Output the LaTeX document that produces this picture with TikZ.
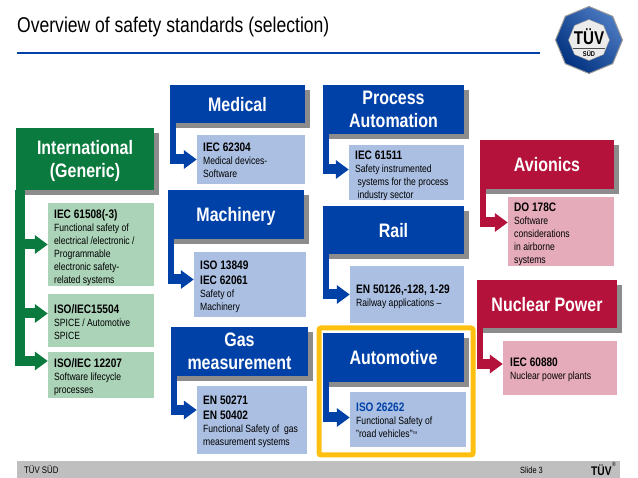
\documentclass[tikz,border=0pt]{standalone}
\usepackage{fontspec}
\setmainfont[FakeStretch=0.82]{Liberation Sans}
\usetikzlibrary{arrows.meta, shadows, shapes.geometric}
\definecolor{tuvblue}{HTML}{0041A8}
\definecolor{tuvgreen}{HTML}{0B7A3E}
\definecolor{tuvred}{HTML}{B4123A}
\definecolor{lightblue}{HTML}{AABFE2}
\definecolor{lightgreen}{HTML}{ABD3B8}
\definecolor{lightred}{HTML}{E6ABBB}
\definecolor{framegold}{HTML}{FDC010}
\tikzset{
  header/.style = {
    inner sep=0pt,
    text=white,
    align=center,
    font=\fontsize{19.5}{23.5}\selectfont\bfseries,
    drop shadow={shadow xshift=5pt, shadow yshift=-5pt, fill=black!45, opacity=1}
  },
  oneline/.style = {
    text height=19pt,
    text depth=4pt
  },
  detail/.style = {
    inner sep=0pt
  },
  stdtext/.style = {
    anchor=north west,
    inner sep=0pt,
    align=left,
    font=\fontsize{10.5}{13}\selectfont
  },
  stem/.style = {
    line width=6pt,
    shorten >=10pt
  },
  link/.style = {
    line width=10pt,
    -{Triangle[width=18pt, length=13pt]}
  }
}
\newcommand{\std}[1]{{\fontsize{12.3}{15}\selectfont\bfseries #1}}

\begin{document}
\begin{tikzpicture}[x=1pt, y=-1pt]

  \useasboundingbox (0,0) rectangle (638,478);

  % title and footer
  \node[anchor=west, inner sep=0pt, font=\fontsize{21.4}{24}\selectfont] (title) at (17,27) {Overview of safety standards (selection)};
  \coordinate (ruleleft) at (17,53);
  \coordinate (ruleright) at (540,53);
  \draw[tuvblue, line width=2pt] (ruleleft) -- (ruleright);
  \fill[black!25] (17,461) rectangle (620,478);
  \node[anchor=west, inner sep=0pt, font=\fontsize{9.5}{10}\selectfont] (company) at (24,470) {TÜV SÜD};
  \node[anchor=west, inner sep=0pt, font=\fontsize{9}{10}\selectfont] (slide) at (520,470) {Slide 3};
  \node[anchor=west, inner sep=0pt, font=\fontsize{12.5}{12}\selectfont\bfseries] (brand) at (591,470) {TÜV};
  \node[anchor=west, inner sep=0pt, font=\fontsize{6}{6}\selectfont] (mark) at (612,464) {®};

  % logo
  \node[regular polygon, regular polygon sides=8, minimum size=67pt, inner sep=0pt, shape border rotate=22.5, top color=tuvblue!70!white, bottom color=tuvblue!75!black, shading angle=-45, draw=black!40, line width=1pt] (logo) at (589,40) {};
  \node[regular polygon, regular polygon sides=8, minimum size=41pt, inner sep=0pt, shape border rotate=22.5, fill=black!8, draw=black!40] (logoinner) at (589,40) {};
  \node[inner sep=0pt, font=\fontsize{18.5}{18}\selectfont\bfseries] (logotuv) at (589,37) {TÜV};
  \coordinate (logoruleleft) at (573,48);
  \coordinate (logoruleright) at (605,48);
  \draw[black!70, line width=0.6pt] (logoruleleft) -- (logoruleright);
  \node[inner sep=0pt, font=\fontsize{7}{7}\selectfont\bfseries] (logosud) at (589,53.5) {SÜD};

  % international
  \node[header, fill=tuvgreen, minimum width=138pt, minimum height=62pt] (international) at (85,159) {\rule{0pt}{18.4pt}International\\(Generic)};
  \node[detail, fill=lightgreen, minimum width=106pt, minimum height=83pt] (iec61508) at (101,244.5) {};
  \node[detail, fill=lightgreen, minimum width=106pt, minimum height=53pt] (iso15504) at (101,320.5) {};
  \node[detail, fill=lightgreen, minimum width=106pt, minimum height=46pt] (iso12207) at (101,375) {};
  \node[stdtext] (iec61508text) at (54,209.4) {\std{IEC 61508(-3)}\\Functional safety of\\electrical /electronic /\\Programmable\\electronic safety-\\related systems};
  \node[stdtext] (iso15504text) at (54,304.4) {\std{ISO/IEC15504}\\SPICE / Automotive\\SPICE};
  \node[stdtext] (iso12207text) at (54,358.7) {\std{ISO/IEC 12207}\\Software lifecycle\\processes};
  \draw[link, tuvgreen] ([xshift=4.5pt]international.south west) |- (iec61508.west);
  \draw[link, tuvgreen] ([xshift=4.5pt]international.south west) |- ([yshift=7pt]iso15504.west);
  \draw[link, tuvgreen] ([xshift=4.5pt]international.south west) |- ([yshift=14pt]iso12207.west);

  % medical
  \node[header, oneline, fill=tuvblue, minimum width=135pt, minimum height=38pt] (medical) at (237.5,104) {Medical};
  \node[detail, fill=lightblue, minimum width=108pt, minimum height=49pt] (iec62304) at (251,159.5) {};
  \node[stdtext] (iec62304text) at (203,143.1) {\std{IEC 62304}\\Medical devices-\\Software};
  \draw[stem, tuvblue] ([xshift=3pt]medical.south west) |- (iec62304.west);
  \draw[link, tuvblue] (medical.west |- iec62304.west) -- (iec62304.west);

  % machinery
  \node[header, oneline, fill=tuvblue, minimum width=136pt, minimum height=49pt] (machinery) at (236,214.5) {Machinery};
  \node[detail, fill=lightblue, minimum width=112pt, minimum height=65pt] (iso13849) at (250,284.5) {};
  \node[stdtext] (iso13849text) at (200,261.1) {\std{ISO 13849}\\[2pt]\std{IEC 62061}\\Safety of\\Machinery};
  \coordinate (iso13849in) at ([yshift=5pt]iso13849.west);
  \draw[stem, tuvblue] ([xshift=3pt]machinery.south west) |- (iso13849in);
  \draw[link, tuvblue] (machinery.west |- iso13849in) -- (iso13849in);

  % gas measurement
  \node[header, fill=tuvblue, minimum width=137pt, minimum height=49pt] (gas) at (239.5,351.5) {Gas\\measurement};
  \node[detail, fill=lightblue, minimum width=110pt, minimum height=68pt] (en50271) at (252,420) {};
  \node[stdtext] (en50271text) at (203,396.1) {\std{EN 50271}\\[2pt]\std{EN 50402}\\Functional Safety of~ gas\\measurement systems};
  \coordinate (en50271in) at ([yshift=10pt]en50271.west);
  \draw[stem, tuvblue] ([xshift=3pt]gas.south west) |- (en50271in);
  \draw[link, tuvblue] (gas.west |- en50271in) -- (en50271in);

  % process automation
  \node[header, fill=tuvblue, minimum width=141pt, minimum height=49pt] (process) at (393.5,109.5) {Process\\Automation};
  \node[detail, fill=lightblue, minimum width=115pt, minimum height=55pt] (iec61511) at (406.5,172.5) {};
  \node[stdtext] (iec61511text) at (355,150.4) {\std{IEC 61511}\\Safety instrumented\\\ systems for the process\\\ industry sector};
  \coordinate (iec61511in) at ([yshift=3pt]iec61511.west);
  \draw[stem, tuvblue] ([xshift=3pt]process.south west) |- (iec61511in);
  \draw[link, tuvblue] (process.west |- iec61511in) -- (iec61511in);

  % rail
  \node[header, oneline, fill=tuvblue, minimum width=141pt, minimum height=48pt] (rail) at (393.5,230) {Rail};
  \node[detail, fill=lightblue, minimum width=114pt, minimum height=57pt] (en50126) at (407,294.5) {};
  \node[stdtext] (en50126text) at (356,284.7) {\std{EN 50126,-128, 1-29}\\Railway applications –};
  \draw[stem, tuvblue] ([xshift=3pt]rail.south west) |- (en50126.west);
  \draw[link, tuvblue] (rail.west |- en50126.west) -- (en50126.west);

  % automotive
  \node[header, oneline, fill=tuvblue, minimum width=141pt, minimum height=49pt] (automotive) at (393.5,357.5) {Automotive};
  \node[detail, fill=lightblue, minimum width=116pt, minimum height=55pt] (iso26262) at (408,419.5) {};
  \node[stdtext] (iso26262text) at (356,403.1) {\textcolor{tuvblue}{\std{ISO 26262}}\\Functional Safety of\\"road vehicles"\raisebox{3pt}{\fontsize{4}{4}\selectfont TM}};
  \coordinate (iso26262in) at ([yshift=2pt]iso26262.west);
  \draw[stem, tuvblue] ([xshift=3pt]automotive.south west) |- (iso26262in);
  \draw[link, tuvblue] (automotive.west |- iso26262in) -- (iso26262in);
  \draw[line width=5pt, color=framegold, rounded corners=2pt] (319,328) rectangle (473,455);

  % avionics
  \node[header, oneline, fill=tuvred, minimum width=134pt, minimum height=49pt] (avionics) at (547,164.5) {Avionics};
  \node[detail, fill=lightred, minimum width=106pt, minimum height=69pt] (do178) at (561,231.5) {};
  \node[stdtext] (do178text) at (514,202.4) {\std{DO 178C}\\Software\\considerations\\in airborne\\systems};
  \coordinate (do178in) at ([yshift=9pt]do178.west);
  \draw[stem, tuvred] ([xshift=3pt]avionics.south west) |- (do178in);
  \draw[link, tuvred] (avionics.west |- do178in) -- (do178in);

  % nuclear power
  \node[header, oneline, fill=tuvred, minimum width=140pt, minimum height=48pt] (nuclear) at (547,304) {Nuclear Power};
  \node[detail, fill=lightred, minimum width=114pt, minimum height=54pt] (iec60880) at (560,368) {};
  \node[stdtext] (iec60880text) at (510,357.7) {\std{IEC 60880}\\Nuclear power plants};
  \coordinate (iec60880in) at ([yshift=4pt]iec60880.west);
  \draw[stem, tuvred] ([xshift=3pt]nuclear.south west) |- (iec60880in);
  \draw[link, tuvred] (nuclear.west |- iec60880in) -- (iec60880in);

\end{tikzpicture}
\end{document}
